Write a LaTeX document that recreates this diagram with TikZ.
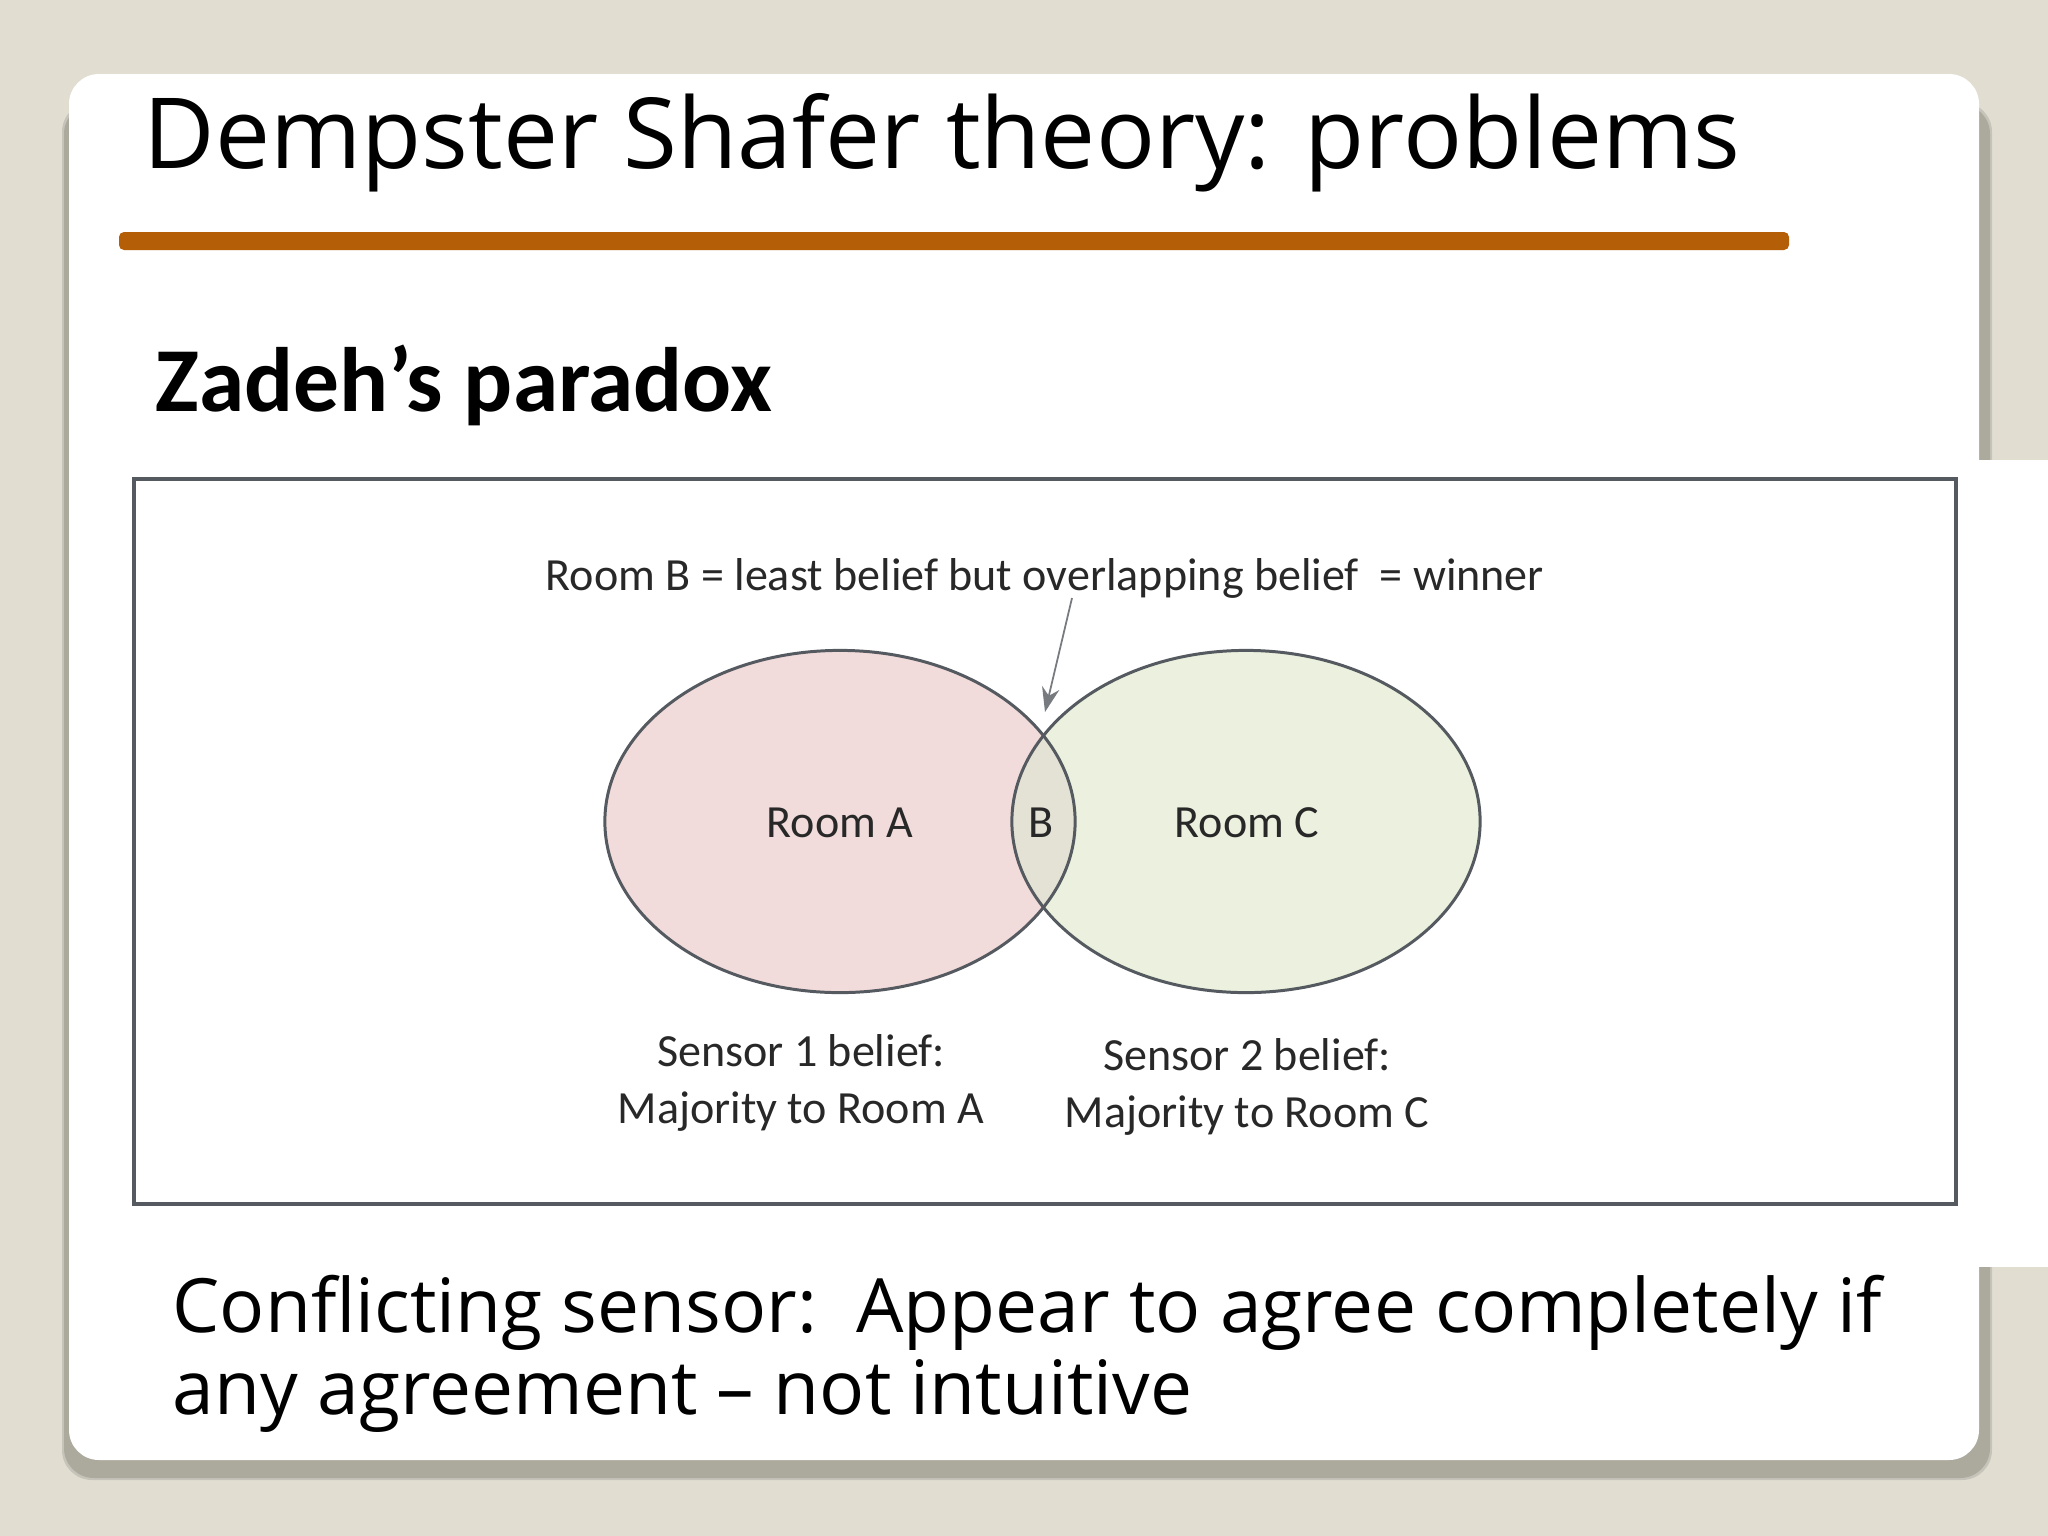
\documentclass[tikz,border=0pt]{standalone}
\usepackage{fontspec}
\setmainfont{Carlito}
\newfontfamily\opensans{Open Sans}
\usetikzlibrary{arrows.meta,shapes.geometric}
\definecolor{bgbeige}{RGB}{225,222,209}
\definecolor{shadowgray}{RGB}{172,169,157}
\definecolor{barorange}{RGB}{181,94,8}
\definecolor{boxline}{RGB}{85,90,96}
\definecolor{pinkA}{RGB}{242,220,219}
\definecolor{greenC}{RGB}{235,241,222}
\definecolor{overlapB}{RGB}{228,226,212}
\definecolor{labeltext}{RGB}{40,40,40}
\tikzset{
  titletext/.style={inner sep=0pt, anchor=base west, font=\opensans\fontsize{27.9}{34}\selectfont},
  subtitle/.style={inner sep=0pt, anchor=base west, font=\bfseries\fontsize{26}{31}\selectfont},
  bodytext/.style={inner sep=0pt, anchor=base west, align=left, font=\opensans\fontsize{21.3}{23.3}\selectfont},
  dlabel/.style={inner sep=0pt, anchor=base, text=labeltext, font=\fontsize{13.1}{15}\selectfont},
  venn/.style={draw=boxline, line width=0.85pt},
  pointer/.style={draw=boxline!80, line width=0.5pt, -{Stealth[length=7pt,width=5pt]}}
}
\begin{document}
\begin{tikzpicture}[x=0.01cm, y=-0.01cm]
% page
\fill[bgbeige] (0,0) rectangle (2048,1536);
\useasboundingbox (0,0) rectangle (2048,1536);
% card shadow and card
\fill[shadowgray!70, rounded corners=0.3cm] (62,102) rectangle (1992,1480);
\fill[shadowgray, rounded corners=0.3cm] (64,104) rectangle (1990,1478);
\fill[white, rounded corners=0.3cm] (69,74) rectangle (1979,1460);
% pasted picture background strip
\fill[white] (1975,460) rectangle (2048,1267);
% title and rule
\node[titletext] (title) at (143,168) {Dempster Shafer theory: problems};
\fill[barorange, rounded corners=0.05cm] (119,232) rectangle (1789,250);
\node[subtitle] (zadeh) at (155,411) {Zadeh’s paradox};
% picture frame
\draw[boxline, line width=0.9pt] (134,479) rectangle (1956,1204);
% Venn diagram
\fill[pinkA] (840,821.5) ellipse [x radius=2.35cm, y radius=1.71cm];
\fill[greenC] (1246,821.5) ellipse [x radius=2.34cm, y radius=1.71cm];
\begin{scope}
  \clip (840,821.5) ellipse [x radius=2.35cm, y radius=1.71cm];
  \fill[overlapB] (1246,821.5) ellipse [x radius=2.34cm, y radius=1.71cm];
\end{scope}
\draw[venn] (840,821.5) ellipse [x radius=2.35cm, y radius=1.71cm];
\draw[venn] (1246,821.5) ellipse [x radius=2.34cm, y radius=1.71cm];
% labels
\node[dlabel] (winner) at (1045,590) {Room B = least belief but overlapping belief\ \ = winner};
\node[dlabel] (roomA) at (840,837) {Room A};
\node[dlabel] (roomB) at (1041,837) {B};
\node[dlabel] (roomC) at (1247,837) {Room C};
\node[dlabel] (sensorA) at (801,1066) {Sensor 1 belief:};
\node[dlabel] (majA) at (801,1123) {Majority to Room A};
\node[dlabel] (sensorC) at (1247,1070) {Sensor 2 belief:};
\node[dlabel] (majC) at (1247,1127) {Majority to Room C};
% pointer
\coordinate (ptail) at (1072,598);
\coordinate (ptip) at (1045,712);
\draw[pointer] (ptail) -- (ptip);
% bottom text (anchor at the baseline of the last line)
\node[bodytext] (conflict) at (172,1414) {Conflicting sensor:\ \ Appear to agree completely if\\any agreement – not intuitive};
\end{tikzpicture}
\end{document}
